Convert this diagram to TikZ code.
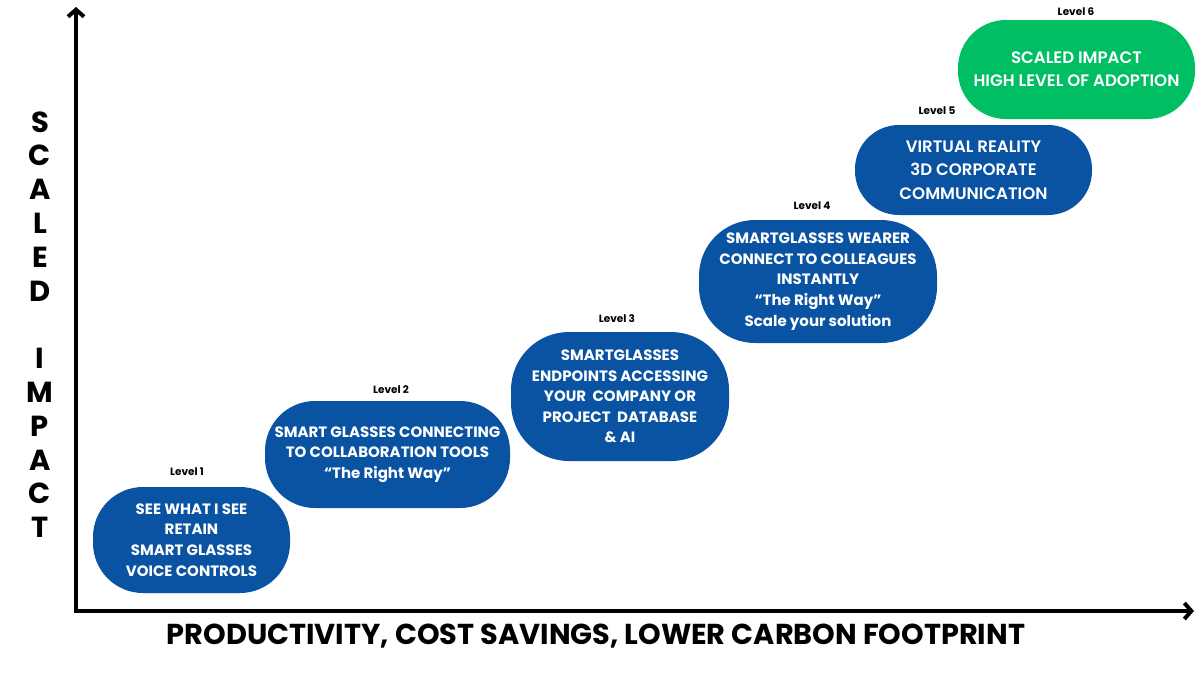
\documentclass[tikz,border=0pt]{standalone}
\usepackage{fontspec}
\setmainfont{Poppins}
\newfontfamily\popsemi{Poppins SemiBold}
\usetikzlibrary{arrows.meta}
\definecolor{boxblue}{HTML}{0A53A3}
\definecolor{boxgreen}{HTML}{00BF63}
\begin{document}
\begin{tikzpicture}[x=1pt,y=-1pt,
  lvlbox/.style={fill=boxblue, text=white, font=\bfseries\fontsize{15}{20.6}\selectfont, align=center, inner sep=0pt},
  bigbox/.style={lvlbox, font=\popsemi\fontsize{16.6}{23.3}\selectfont},
  lvllabel/.style={font=\bfseries\fontsize{10.5}{12}\selectfont, text=black},
  axis/.style={line width=4.2pt, -{Straight Barb[length=7pt,width=16pt,line width=4pt]}},
]
\useasboundingbox (0,0) rectangle (1200,675);
\fill[white] (0,0) rectangle (1200,675);

% axes
\coordinate (O) at (76,611);
\coordinate (ytop) at (76,7);
\coordinate (xend) at (1194,611);
\draw[axis] (76,613) -- (ytop);
\draw[axis] (74,611) -- (xend);

% axis labels
\node[font=\fontsize{29}{33.8}\selectfont\bfseries, align=center, inner sep=0pt] (ylab) at (40,324.5)
  {S\\C\\A\\L\\E\\D\\\mbox{}\\I\\M\\P\\A\\C\\T};
\node[font=\fontsize{28.8}{31}\selectfont\bfseries, inner sep=0pt] (xlab) at (596,636)
  {PRODUCTIVITY, COST SAVINGS, LOWER CARBON FOOTPRINT};

% boxes
\node[lvlbox, minimum width=197pt, minimum height=106pt, rounded corners=50pt] (b1) at (191.5,540)
  {SEE WHAT I SEE\\RETAIN\\SMART GLASSES\\VOICE CONTROLS};
\node[lvlbox, minimum width=245pt, minimum height=107pt, rounded corners=50pt] (b2) at (387.5,454.5)
  {SMART GLASSES CONNECTING\\TO COLLABORATION TOOLS\\“The Right Way”};
\node[lvlbox, minimum width=218pt, minimum height=129pt, rounded corners=58pt] (b3) at (620,396.5)
  {SMARTGLASSES\\ENDPOINTS ACCESSING\\YOUR \ COMPANY OR\\PROJECT \ DATABASE\\\& AI};
\node[lvlbox, minimum width=238pt, minimum height=123pt, rounded corners=56pt] (b4) at (818,281.5)
  {SMARTGLASSES WEARER\\CONNECT TO COLLEAGUES\\INSTANTLY\\“The Right Way”\\Scale your solution};
\node[bigbox, minimum width=237pt, minimum height=90pt, rounded corners=44pt] (b5) at (973.5,170)
  {VIRTUAL REALITY\\3D CORPORATE\\COMMUNICATION};
\node[bigbox, fill=boxgreen, minimum width=237pt, minimum height=99pt, rounded corners=48pt] (b6) at (1076.5,69.5)
  {SCALED IMPACT\\HIGH LEVEL OF ADOPTION};

% level labels
\node[lvllabel] (l1) at (187,472) {Level 1};
\node[lvllabel] (l2) at (391,390) {Level 2};
\node[lvllabel] (l3) at (617,319) {Level 3};
\node[lvllabel] (l4) at (812,206) {Level 4};
\node[lvllabel] (l5) at (937,111) {Level 5};
\node[lvllabel] (l6) at (1076,12) {Level 6};
\end{tikzpicture}
\end{document}
